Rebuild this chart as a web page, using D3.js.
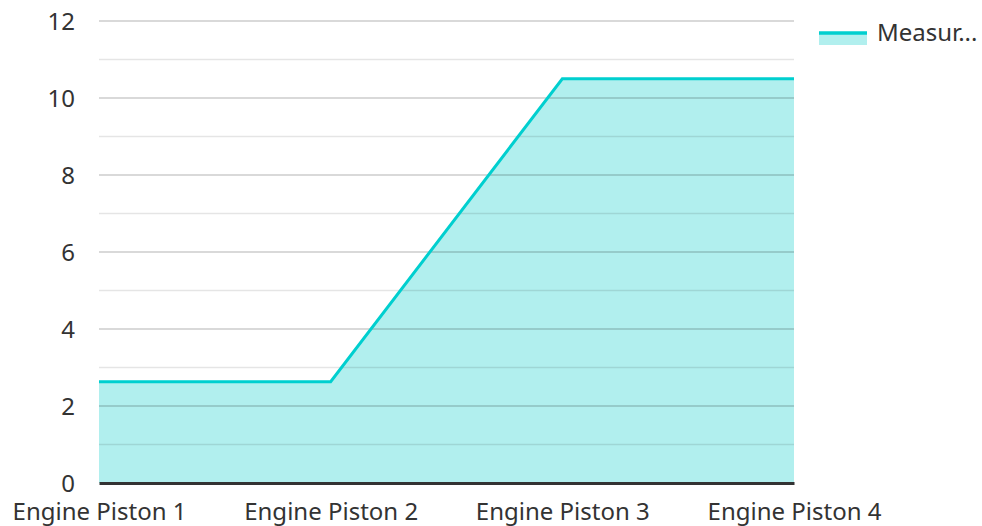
<!DOCTYPE html>
<html><head><meta charset="utf-8">
<script src="https://cdn.jsdelivr.net/npm/d3@7"></script>
<style>body{margin:0;background:#fff;} text{font-family:"Noto Sans",sans-serif;fill:#333;}</style>
</head><body>
<svg id="c" width="982" height="526"></svg>
<script>
const categories = ["Engine Piston 1","Engine Piston 2","Engine Piston 3","Engine Piston 4"];
const values = [2.63, 2.63, 10.5, 10.5];
const yTicks = [0,2,4,6,8,10,12];
const minorTicks = [1,3,5,7,9,11];
const seriesName = "Measur...";

const svg = d3.select("#c");
const x = d3.scalePoint().domain(categories).range([99,794]).padding(0);
const y = d3.scaleLinear().domain([0,12]).range([483,21]);

const data = categories.map((c,i)=>({c, v: values[i]}));

svg.append("path").datum(data)
  .attr("d", d3.area().x(d=>x(d.c)).y0(y(0)).y1(d=>y(d.v)))
  .attr("fill","#b1efee");

svg.append("g").selectAll("line").data(minorTicks).join("line")
  .attr("x1",99).attr("x2",794).attr("y1",d=>y(d)).attr("y2",d=>y(d))
  .attr("stroke","rgba(0,0,0,0.1)").attr("stroke-width",1.5);
svg.append("g").selectAll("line").data(yTicks.filter(t=>t>0)).join("line")
  .attr("x1",99).attr("x2",794).attr("y1",d=>y(d)).attr("y2",d=>y(d))
  .attr("stroke","rgba(0,0,0,0.2)").attr("stroke-width",1.5);

const yAxis = svg.append("g").attr("transform","translate(75,0)")
  .call(d3.axisLeft(y).tickValues(yTicks).tickSize(0).tickPadding(0));
yAxis.select(".domain").remove();
yAxis.selectAll("text").style("font-size","24px").attr("dy","0.35em");

svg.append("path").datum(data)
  .attr("d", d3.line().x(d=>x(d.c)).y(d=>y(d.v)))
  .attr("fill","none").attr("stroke","#00cfcf").attr("stroke-width",3).attr("stroke-linejoin","miter");

const xAxis = svg.append("g").attr("transform",`translate(0,${y(0)})`)
  .call(d3.axisBottom(x).tickSize(0).tickPadding(29));
xAxis.select(".domain").attr("stroke","#333").attr("stroke-width",3);
xAxis.selectAll("text").style("font-size","24px").attr("dy","0.35em");

const lg = svg.append("g");
lg.append("rect").attr("x",819).attr("y",33).attr("width",48).attr("height",12).attr("fill","#b1efee");
lg.append("line").attr("x1",819).attr("x2",867).attr("y1",33).attr("y2",33).attr("stroke","#00cfcf").attr("stroke-width",3.5);
lg.append("text").attr("x",877).attr("y",33).attr("dy","0.35em").style("font-size","24px").text(seriesName);
</script>
</body></html>
